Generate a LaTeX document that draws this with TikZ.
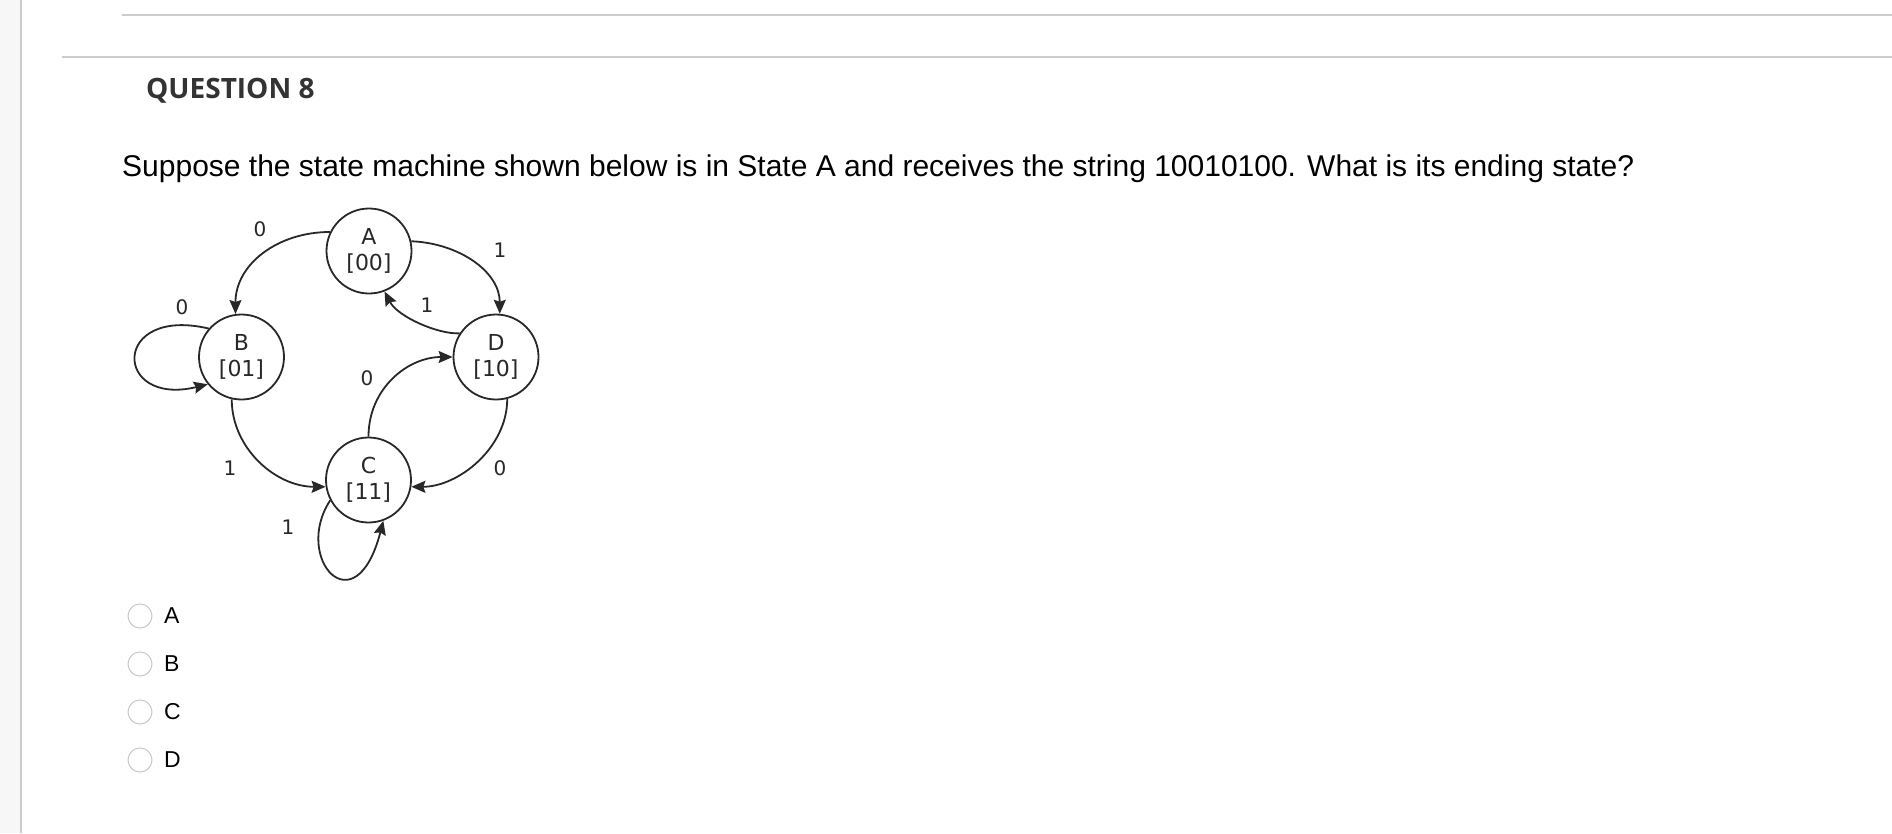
\documentclass[tikz,border=0pt]{standalone}
\usepackage{fontspec}
\usetikzlibrary{arrows.meta}
\newfontfamily\opensans{Open Sans}
\newfontfamily\arialfont{Liberation Sans}
\newfontfamily\dejavufont{DejaVu Sans}
\definecolor{diag}{RGB}{40,40,40}
\definecolor{rulegray}{RGB}{204,204,204}
\definecolor{stripgray}{RGB}{247,247,247}
\definecolor{headgray}{RGB}{51,51,51}
\definecolor{radiogray}{RGB}{200,200,200}
\begin{document}
\begin{tikzpicture}[x=1pt,y=-1pt,
  state/.style={circle, draw=diag, line width=1.8pt, minimum size=85pt, inner sep=0pt,
    align=center, text=diag, font=\dejavufont\fontsize{22}{26}\selectfont},
  trans/.style={draw=diag, line width=1.8pt, -{Stealth[length=14pt,width=12pt,inset=2pt]}},
  lbl/.style={text=diag, font=\dejavufont\fontsize{20}{20}\selectfont, inner sep=0pt},
  rulel/.style={draw=rulegray, line width=2pt},
  radiob/.style={circle, draw=radiogray, fill=white, line width=1pt, minimum size=24pt, inner sep=0pt},
  opt/.style={anchor=west, inner sep=0pt, font=\arialfont\fontsize{23}{23}\selectfont}
]
% canvas
\path[use as bounding box, fill=white] (0,0) rectangle (1892,833);
\fill[stripgray] (0,0) rectangle (20,833);
\draw[rulel] (21,0) -- (21,833);
\draw[rulel] (122,15) -- (1892,15);
\draw[rulel] (62,57) -- (1892,57);

% heading and question
\node[anchor=base west, inner sep=0pt, text=headgray, font=\opensans\bfseries\fontsize{28}{28}\selectfont] (head) at (146,98) {QUESTION 8};
\node[anchor=base west, inner sep=0pt, font=\arialfont\fontsize{30}{30}\selectfont] (quest) at (122,176) {Suppose the state machine shown below is in State A and receives the string 10010100. What is its ending state?};

% states
\node[state] (A) at (369,251) {A\\{}[00]};
\node[state] (B) at (241.5,357) {B\\{}[01]};
\node[state] (D) at (496,357) {D\\{}[10]};
\node[state] (C) at (368.5,480) {C\\{}[11]};

% transitions
\draw[trans] (A.154) .. controls +(-52,0) and +(0,-50) .. (B.98);
\draw[trans] (A.13) .. controls +(48,2) and +(0,-42) .. (D.85);
\draw[trans] (D.147) .. controls +(-22,1) and +(13,25) .. (A.291);
\draw[trans] (B.139) .. controls +(-98,-23) and +(-95,23) .. (B.219);
\draw[trans] (B.257) .. controls +(0,49) and +(-50,0) .. (C.189);
\draw[trans] (D.285) .. controls +(0,49) and +(47,0) .. (C.351);
\draw[trans] (C.90) .. controls +(0,-48) and +(-45,0) .. (D.180);
\draw[trans] (C.208) .. controls +(-38,58) and +(-28,108) .. (C.290);

% labels
\node[lbl] (l1) at (260,229) {0};
\node[lbl] (l2) at (500,250) {1};
\node[lbl] (l3) at (427,305) {1};
\node[lbl] (l4) at (182,307) {0};
\node[lbl] (l5) at (367,378) {0};
\node[lbl] (l6) at (230,468) {1};
\node[lbl] (l7) at (500,468) {0};
\node[lbl] (l8) at (288,527) {1};

% options
\node[radiob] (ra) at (140,616) {};
\node[radiob] (rb) at (140,664) {};
\node[radiob] (rc) at (140,712) {};
\node[radiob] (rd) at (140,760) {};
\node[opt] (oa) at (164,616) {A};
\node[opt] (ob) at (164,664) {B};
\node[opt] (oc) at (164,712) {C};
\node[opt] (od) at (164,760) {D};
\end{tikzpicture}
\end{document}
